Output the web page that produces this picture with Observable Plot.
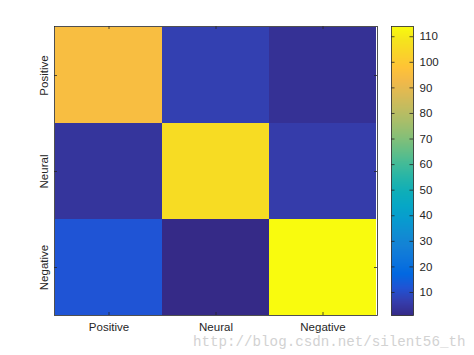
<!DOCTYPE html>
<html>
<head>
<meta charset="utf-8">
<script src="https://cdn.jsdelivr.net/npm/d3@7"></script>
<script src="https://cdn.jsdelivr.net/npm/@observablehq/plot@0.6"></script>
<style>
  html, body { margin: 0; padding: 0; background: #fff; }
  #wrap { position: relative; width: 474px; height: 355px; overflow: hidden; font-family: "Liberation Sans", Arial, sans-serif; }
  #wrap > div { position: absolute; }
  #mark { left: 193px; top: 334px; font-family: "Liberation Mono", "DejaVu Sans Mono", monospace; font-size: 14.2px; line-height: 16px; color: #d2d2d2; white-space: nowrap; }
</style>
</head>
<body>
<div id="wrap"><div id="heat"></div><div id="cbar"></div><div id="mark">http://blog.csdn.net/silent56_th</div></div>
<script>
// categories (rows = true class, top to bottom; columns = predicted class)
const categories = ["Positive", "Neural", "Negative"];
// matrix values, row by row
const rowPositive = [95, 7, 3];
const rowNeural = [4, 106, 6];
const rowNegative = [12, 1, 114];
const colorTicks = [10, 20, 30, 40, 50, 60, 70, 80, 90, 100, 110];

const rows = [rowPositive, rowNeural, rowNegative];
const cells = [];
rows.forEach((r, i) => r.forEach((v, j) => cells.push({row: categories[i], col: categories[j], value: v})));
const allValues = cells.map(d => d.value);
const vmin = d3.min(allValues), vmax = d3.max(allValues);

// parula colormap (sampled)
const parulaRGB = [
  [0.2081,0.1663,0.5292],[0.2081,0.2386,0.6771],[0.1253,0.3242,0.8303],[0.0060,0.4086,0.8828],
  [0.0498,0.4586,0.8641],[0.0779,0.5040,0.8384],[0.0641,0.5570,0.8240],[0.0265,0.6137,0.8135],
  [0.0228,0.6535,0.7768],[0.0590,0.6838,0.7254],[0.1453,0.7098,0.6646],[0.2586,0.7317,0.5954],
  [0.3953,0.7459,0.5244],[0.5300,0.7491,0.4661],[0.6473,0.7456,0.4188],[0.7525,0.7384,0.3768],
  [0.8507,0.7299,0.3360],[0.9450,0.7261,0.2886],[0.9990,0.7653,0.2164],[0.9789,0.8271,0.1633],
  [0.9589,0.8949,0.1132],[0.9763,0.9831,0.0538]
];
const parula = parulaRGB.map(([r, g, b]) => d3.rgb(r * 255, g * 255, b * 255).formatHex());
const interp = d3.piecewise(d3.interpolateRgb, parula);
const colorOpts = {type: "linear", domain: [vmin, vmax], interpolate: () => interp};

const ink = "#262626";
const font = {fontFamily: "Liberation Sans, Arial, sans-serif", fontSize: "11.5px", color: ink, background: "transparent"};
const heat = Plot.plot({
  width: 474, height: 355,
  marginLeft: 54, marginRight: 97, marginTop: 26, marginBottom: 40,
  style: font,
  x: {domain: categories, padding: 0, label: null},
  y: {domain: categories, padding: 0, label: null},
  color: colorOpts,
  marks: [
    Plot.cell(cells, {x: "col", y: "row", fill: "value"}),
    Plot.ruleX(categories, {x: d => d, insetTop: 286, stroke: ink, strokeWidth: 0.8}),
    Plot.ruleX(categories, {x: d => d, insetBottom: 286, stroke: ink, strokeWidth: 0.8}),
    Plot.ruleY(categories, {y: d => d, insetRight: 320, stroke: ink, strokeWidth: 0.8}),
    Plot.ruleY(categories, {y: d => d, insetLeft: 320, stroke: ink, strokeWidth: 0.8}),
    Plot.frame({stroke: ink, strokeWidth: 0.8}),
    Plot.axisX({anchor: "bottom", tickSize: 0, tickPadding: 7}),
    Plot.axisY({anchor: "left", tickSize: 0, tickRotate: -90, tickPadding: 7})
  ]
});
document.getElementById("heat").appendChild(heat);

const cbar = Plot.plot({
  width: 94, height: 355,
  marginLeft: 11, marginRight: 61, marginTop: 26, marginBottom: 40,
  style: font,
  x: {domain: [0, 1], axis: null},
  y: {domain: [vmin, vmax], label: null},
  color: colorOpts,
  marks: [
    Plot.raster({x1: 0, x2: 1, y1: vmin, y2: vmax, fill: (x, y) => y, pixelSize: 1, imageRendering: "auto"}),
    Plot.ruleY(colorTicks, {y: d => d, x1: 0.84, x2: 1, stroke: ink, strokeWidth: 0.8}),
    Plot.ruleY(colorTicks, {y: d => d, x1: 0, x2: 0.16, stroke: ink, strokeWidth: 0.8}),
    Plot.frame({stroke: ink, strokeWidth: 0.8}),
    Plot.axisY(colorTicks, {anchor: "right", tickSize: 0, tickPadding: 6, label: null})
  ]
});
const cb = document.getElementById("cbar");
cb.style.left = "380px"; cb.style.top = "0px";
cb.appendChild(cbar);
</script>
</body>
</html>
